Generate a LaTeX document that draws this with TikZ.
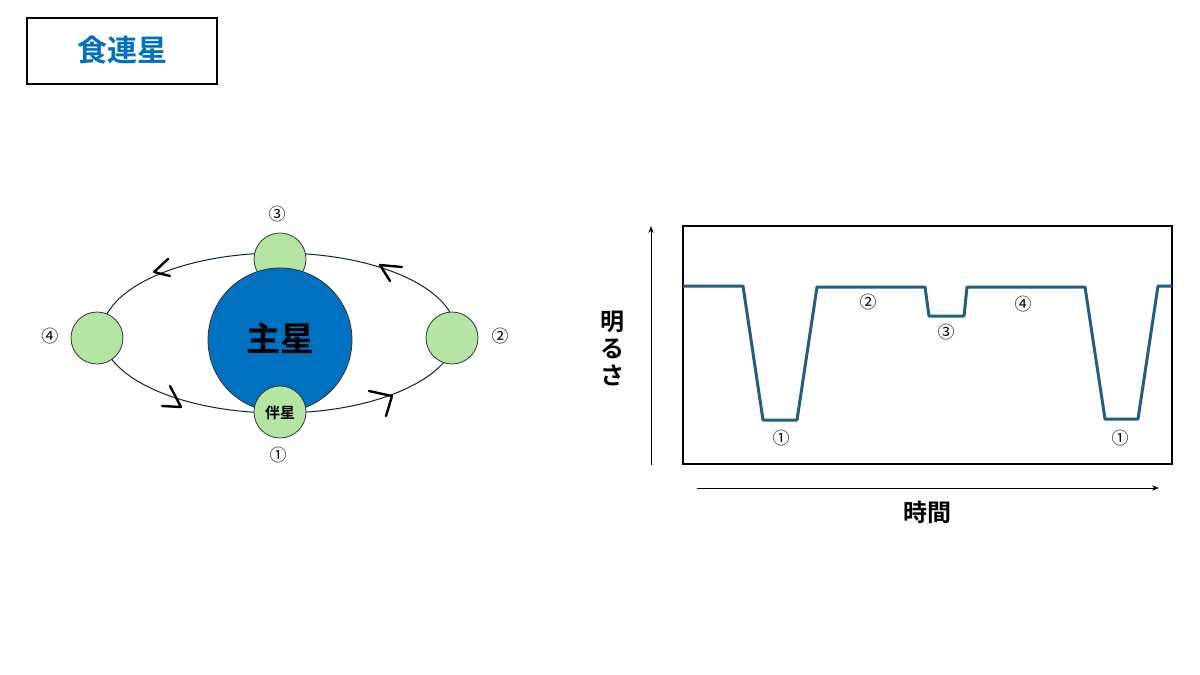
\documentclass[tikz,border=0pt]{standalone}
\usepackage{fontspec}
\setmainfont{Noto Sans CJK JP}
\newfontfamily\jpb{Noto Sans CJK JP Bold}
\usetikzlibrary{arrows.meta}
\begin{document}
\begin{tikzpicture}[x=1pt,y=-1pt,
  comp/.style={circle,draw=black!80,fill=green!30!lime!25!white,fill={rgb,255:red,181;green,229;blue,162},minimum size=52pt,inner sep=0pt,line width=0.8pt},
  num/.style={font=\fontsize{17}{17}\selectfont},
  chev/.style={line width=2.4pt,line cap=round,line join=round},
  curve/.style={draw={rgb,255:red,31;green,95;blue,128},line width=3pt,line join=round}]
\useasboundingbox (0,0) rectangle (1200,675);
\node[draw,line width=2pt,minimum width=190pt,minimum height=66pt] (title) at (122,51) {};
\node[font=\jpb\fontsize{30}{30}\selectfont,text={rgb,255:red,0;green,112;blue,192}] (tt) at (122,50) {食連星};
\draw[line width=1pt,draw={rgb,255:red,10;green,35;blue,55}] (279,333) ellipse [x radius=177, y radius=80];
\node[comp] (c3) at (280,259) {};
\node[circle,draw=black!80,line width=0.8pt,fill={rgb,255:red,0;green,112;blue,192},minimum size=144pt,inner sep=0pt] (main) at (280,340) {};
\node[font=\jpb\fontsize{34}{34}\selectfont] (mt) at (280,338) {主星};
\node[comp] (c1) at (280,412) {};
\node[font=\jpb\fontsize{15}{15}\selectfont] (ct) at (280,413) {伴星};
\node[comp] (c4) at (97,338) {};
\node[comp] (c2) at (452,338) {};
\node[num] (l3) at (277,214) {③};
\node[num] (l4) at (50,336) {④};
\node[num] (l2) at (500,336) {②};
\node[num] (l1) at (278,455) {①};
\draw[chev] (168,259) -- (154,272) -- (170,276);
\draw[chev] (402,267) -- (380,265) -- (390,281);
\draw[chev] (170,386) -- (181,407) -- (162,406);
\draw[chev] (369,391) -- (392,396) -- (386,416);
% graph
\node[draw,line width=1.2pt,minimum width=489pt,minimum height=238pt,inner sep=0pt] (box) at (927.5,345) {};
\draw[curve] (683,286) -- (743,286) -- (763,420) -- (797,420) -- (817,287) -- (925,287) -- (929,316) -- (964,316) -- (967,287) -- (1085,287) -- (1105,419) -- (1138,419) -- (1158,286) -- (1172,286);
\node[num] (g1a) at (781,438) {①};
\node[num] (g1b) at (1120,438) {①};
\node[num] (g2) at (868,302) {②};
\node[num] (g3) at (946,332) {③};
\node[num] (g4) at (1023,304) {④};
\coordinate (ya) at (651,465); \coordinate (yb) at (651,226);
\coordinate (xa) at (697,488); \coordinate (xb) at (1159,488);
\draw[-{Stealth[length=7pt]},line width=1pt] (ya) -- (yb);
\draw[-{Stealth[length=7pt]},line width=1pt] (xa) -- (xb);
\node[font=\jpb\fontsize{24}{27}\selectfont,align=center] (yl) at (612,348) {明\\る\\さ};
\node[font=\jpb\fontsize{24}{24}\selectfont] (xl) at (927,512) {時間};
\end{tikzpicture}
\end{document}
